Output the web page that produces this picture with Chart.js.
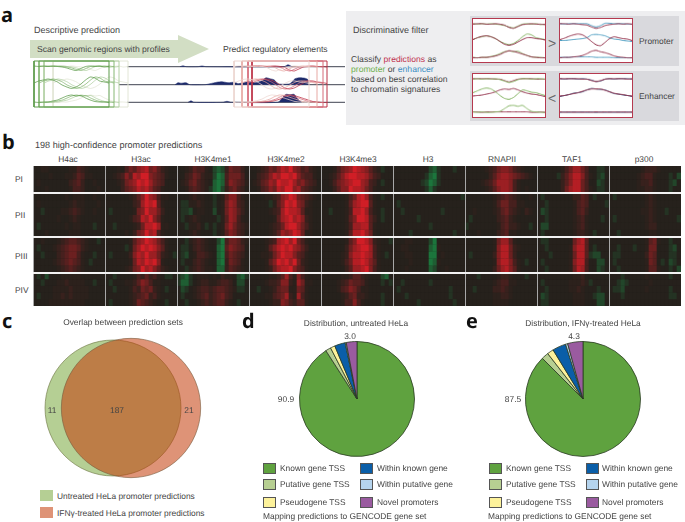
<!DOCTYPE html>
<html>
<head>
<meta charset="utf-8">
<title>Promoter predictions</title>
<script src="https://cdn.jsdelivr.net/npm/chart.js@4"></script>
<style>
  html, body { margin: 0; padding: 0; background: #fff; }
  #pagina { position: relative; width: 685px; height: 522px; overflow: hidden; font-family: "Liberation Sans", Arial, sans-serif; color: #444; text-rendering: geometricPrecision; }
  #pagina canvas, .caja, .txt, .muestra { position: absolute; }
  .txt { font-size: 8.4px; white-space: nowrap; transform: translateY(-50%); line-height: 1; }
  .cen { transform: translate(-50%, -50%); }
  .letra { font-family: "Open Sans", sans-serif; font-weight: 700; font-size: 20px; color: #111; }
  .muestra { border: 1px solid #555; box-sizing: border-box; }
  .caja { background: #eeeef0; }
  .oscuro { background: #d9d9dd; }
  .flecha { position: absolute; left: 30px; top: 35px; width: 179px; height: 28px; background: #d2dec4;
            clip-path: polygon(0 5px, 148px 5px, 148px 0, 100% 14px, 148px 100%, 148px 23px, 0 23px); }
  .marco { border: 1px solid #b5394f; box-sizing: content-box; }
</style>
</head>
<body>
<div id="pagina">
  <div class="flecha"></div>
  <div class="caja" style="left:346px;top:11px;width:339px;height:114px"></div>
  <div class="caja oscuro" style="left:470px;top:16px;width:209px;height:50px"></div>
  <div class="caja oscuro" style="left:470px;top:71px;width:209px;height:50px"></div>
  <canvas id="escaneo" width="315" height="54" style="left:30px;top:56px"></canvas>
  <canvas id="perfil1" class="marco" width="74" height="45" style="left:472px;top:18px;background:#fff"></canvas>
  <canvas id="perfil2" class="marco" width="74" height="45" style="left:559px;top:18px;background:#fff"></canvas>
  <canvas id="perfil3" class="marco" width="74" height="45" style="left:472px;top:73px;background:#fff"></canvas>
  <canvas id="perfil4" class="marco" width="74" height="45" style="left:559px;top:73px;background:#fff"></canvas>
  <canvas id="mapa" width="648" height="140" style="left:33px;top:166px;background:#24231e;filter:blur(0.5px)"></canvas>
  <canvas id="venn" width="185" height="156" style="left:30px;top:330px"></canvas>
  <canvas id="tartaD" width="130" height="130" style="left:292px;top:334px"></canvas>
  <canvas id="tartaE" width="130" height="130" style="left:518px;top:334px"></canvas>
</div>

<script>
/* Textos */
var pistas = ['H4ac', 'H3ac', 'H3K4me1', 'H3K4me2', 'H3K4me3', 'H3', 'RNAPII', 'TAF1', 'p300'];
var grupos = ['PI', 'PII', 'PIII', 'PIV'];
var categorias = ['Known gene TSS', 'Putative gene TSS', 'Pseudogene TSS', 'Within known gene', 'Within putative gene', 'Novel promoters'];
var coloresTarta = ['#5fa23f', '#b7cf92', '#fdf29b', '#0a5ea8', '#b5d4ee', '#9a5ba0'];

/* Valores de las tartas */
var sinTratar = [90.9, 1.5, 1.3, 3.0, 0.3, 3.0];
var conIFN = [87.5, 2.0, 1.8, 3.8, 0.6, 4.3];

/* Conjuntos del diagrama de Venn */
var soloSinTratar = 11;
var comunes = 187;
var soloIFN = 21;

/* Predicciones por grupo y tiras dibujadas en cada grupo */
var predPorGrupo = [38, 63, 50, 47];
var tirasPorGrupo = [4, 6, 5, 5];

/* Mapa de calor: 1-9 rojo, a-d verde, 0 fondo. Una cadena por tira, 18 columnas */
var H4ac = [
  '001100000113210000', '000010001124311000', '010000000234200100', '000100000133200010',
  '000000001011100100', '010000000121100010', '00a000011232100100', '000000100121000000', '0a0000001011000a00', '000100000111000000',
  '0010001234432100a0', '0a0001234554210000', '00a000234553100a00', '00000123454310a000', '000000123432100000',
  '0a0b00011111000000', '00a000112111100a00', '000001111211110000', '0a0001121211110000', '000011111111100000'];
var H3ac = [
  '000103546785642100', '001236487996543100', '000125679897543000', '000024568786431000',
  '000000124697631100', '000000023798941000', '0a0000015697752000', '000000134879641000', '00a000012588971100', '000001025697831000',
  '000000146798753100', '00000a157989864100', '0a000026879775210a', '000000158798961000', '000001256978642100',
  '00a000013242310aa0', '0a0001124653110000', '00a000132545210a00', '000000123452310000', '0a0000125432100a00'];
var H3K4me1 = [
  '001243310bcb254420', '002354211bdc355530', '012453210cdc365431', '00134321acdb245320',
  '000121100a01466310', '0aa112100a01576320', '0aab01100b01576420', '0a01210000a1476310', '00a1120a0a01575321', '000121000a01465320',
  '00a1232100bd355421', '0aa0232100cd465430', '0ab0133210cd354320', '0a00232100cd254310', '00a1232110cc243210',
  'abca01110102110bca', 'acca01221123320bb0', '0ba012332344321aa0', '0a0012342345320000', '00a001232344210a00'];
var H3K4me2 = [
  '001235468796534210', '002346879989643310', '012457698897564320', '001346587996743210',
  '000011236798543210', '00000a146989652100', '000001237988741100', '000000147897862100', '000001235899753100', '000001247679851100',
  '000012378979531000', '000014689897642000', '000112579886431000', '000014698979521000', '000012578896431000',
  '000001124731631000', '000012236621751100', '00a001245511541000', '000011345721731000', '000001226532441000'];
var H3K4me3 = [
  '000135679876421a00', '001246899887532000', '001356789976320a00', '000246698875310000',
  '000000135897310a00', '000000147899410000', '00a000138897310a00', '000000146998420a00', '000000137788410000', '000000148897510000',
  '00000014699862100a', '000000257899731000', '0000012688987310a0', '000001358898641000', '000000247789631000',
  '000001124421000bc0', '000012354431000a0a', '000013465311000000', '000001245221000a00', '000001336310000a00'];
var H3 = [
  '000000000bca000a00', '00000000acda000000', '0000000abdca000000', '00000000aca0000000',
  '00000000000000000a', '0a0000000000000000', '00a000000000a00000', '000000a00000000000', '000000000a00000000', '0000a0000000000a00',
  '000110000bd0000000', '001100000cd1000000', '000110000dd0100000', '000010000dc1000000', '000100000cb0010000',
  '000000000000000000', '00a000000a00000000', '0a000000000000a000', '000a0000000000a000', '000000a00000000a00'];
var RNAPII = [
  '000001235665321000', '000000246776543210', '000012357776310000', '000001246776310100',
  '000000012343210010', '000000013553311000', '001000012453210210', '0a0000002342100000', 'a000000013422100a0', '000100002341100000',
  '000000015774100000', '000000016885210000', '0a0000026885200000', '000000016886310a00', '000000025786410000',
  '000a00001221000a00', '000000012331100000', '00a000022321000000', '000000011221000000', '000000011110000000'];
var TAF1 = [
  '000000135775300aa0', '00000a246886310ab0', '000000246885300ba0', '000000257885310aa0',
  '0a000000022430a000', '00a00000013430000a', '0ba000000134200000', '00a0000001231000a0', '0bb000000123100000', '0a000000012210a000',
  '0aa000000578400000', '00a00000168840a000', '000a000015884abb00', '0a0000001688300bb0', '00a000001587300ba0',
  '000000000112000000', '0a00000011121a0000', '00a000001121000a00', '0ba00000011100abb0', '0aa000000111000bb0'];
var p300 = [
  '000000001222100000', '000000012331000a0b', '000000012231000ab0', '000000011221000a00',
  '0a0000000121000000', '000000000121000000', '00000000112100a000', '0a000000012100000a', '000000000122000000', '00a000000011000000',
  '000000000145100a00', '00a000a00155000ab0', '0aa000000254000aa0', '0a00000001540a0ba0', '00a000000144100a0b',
  '000a00000100000a00', '00aba0000010000000', '0aab00000100000a00', '000a00000000000aa0', '000000000000000000'];
var mapaPistas = [H4ac, H3ac, H3K4me1, H3K4me2, H3K4me3, H3, RNAPII, TAF1, p300];

/* Perfiles de cromatina, tres pistas en cada recuadro */
var rojo1a = [40.5, 41, 41, 40.5, 40.5, 41, 40.5, 39.5, 37, 36, 38, 40, 40.5, 41, 40.5, 40.5, 40];
var rojo1b = [24, 26, 27.5, 28, 27, 25, 22, 19, 18, 19, 21.5, 24, 26, 26, 25, 24.5, 23.5];
var rojo1c = [4.5, 4.5, 5, 5, 5.5, 6.5, 8, 10.5, 12, 11.5, 10, 8.5, 7, 5.5, 5, 4.5, 4.5];
var verde1a = [41, 40.5, 41, 40.5, 41, 40.5, 40, 39, 37.5, 36.5, 38.5, 40.5, 41, 40.5, 41, 40, 40.5];
var verde1b = [24, 26, 27, 28, 27, 25, 22, 20, 18.5, 20, 23, 27, 30, 29, 26, 25, 24];
var verde1c = [5, 4.5, 5, 5, 6, 7, 9, 11, 12, 11, 11.5, 9, 7, 5.5, 5, 5, 4.5];

var rojo2a = [41, 41, 40.5, 41, 40.5, 40, 39.5, 37.5, 36, 37, 39, 40, 40.5, 41, 40.5, 41, 40.5];
var rojo2b = [24, 25.5, 27.5, 29, 30, 29, 26, 22, 18.5, 17.5, 21, 25, 27, 26, 25, 24.5, 23];
var rojo2c = [4.5, 5, 5, 5.5, 6, 7, 9, 11.5, 12.5, 11, 10, 8.5, 6.5, 5.5, 5, 4.5, 4.5];
var azul2a = [41, 40.5, 41, 41, 41, 41, 41, 39, 37.5, 39, 41.5, 41.5, 41, 41, 41, 40.5, 40.5];
var azul2b = [23, 23, 23.5, 24, 24.5, 25, 26, 29, 29.5, 29, 28, 26, 24.5, 24, 23, 22.5, 22];
var azul2c = [5, 5, 5, 5.5, 5.5, 5.5, 5.5, 5.5, 5, 5, 5, 5, 4.5, 4.5, 4.5, 4.5, 4.5];

var rojo3a = [41, 41, 41, 41, 41, 40.5, 40.5, 39, 37.5, 39, 40.5, 41, 41, 41, 40.5, 40.5, 40.5];
var rojo3b = [22.5, 23, 23.5, 24.5, 25.5, 27, 29, 30, 29.5, 30.5, 29, 27, 25.5, 24.5, 24, 23, 22];
var rojo3c = [5.5, 5.5, 5, 5.5, 5.5, 5.5, 5.5, 5.5, 5.5, 5.5, 5.5, 5.5, 5.5, 5, 5, 5.5, 5];
var verde3a = [40.5, 41, 40.5, 41, 40.5, 41, 40, 38.5, 37, 38, 40, 41, 41, 40.5, 41, 41, 40.5];
var verde3b = [26, 28, 30, 31, 30, 27, 23, 20, 19, 21, 25, 29, 28, 26.5, 26, 24.5, 23];
var verde3c = [5.5, 5, 5.5, 5, 5, 5.5, 6, 9, 12, 12.5, 11.5, 12.5, 9, 6, 5.5, 5, 5];

var rojo4a = [41, 41, 41, 41, 41, 40.5, 40.5, 39, 38, 39, 40.5, 41, 41, 41, 41, 40.5, 41];
var rojo4b = [22.5, 23, 24, 25, 26, 27.5, 29, 30, 30, 30, 28.5, 27, 25.5, 24.5, 24, 23, 22.5];
var rojo4c = [5.5, 5, 5.5, 5, 5.5, 5, 5.5, 5, 5.5, 5, 5.5, 5, 5.5, 5, 5.5, 5, 5.5];
var azul4a = [41, 40.5, 41, 41, 40.5, 41, 40.5, 39.5, 38, 38.5, 40.5, 41, 40.5, 41, 41, 41, 40.5];
var azul4b = [22, 23, 24, 25.5, 26, 27, 29, 30.5, 30, 29.5, 29, 27, 25, 24.5, 23.5, 23, 22];
var azul4c = [5, 5.5, 5, 5.5, 5, 5.5, 5, 5.5, 5, 5.5, 5, 5.5, 5, 5.5, 5, 5.5, 5];

/* Ventanas de escaneo y señal de las pistas del panel a */
var ventanasVerdes = [34, 39, 44, 53];
var ventanasRojas = [234, 242, 248, 252];
var senal1x = [180, 183, 186, 198, 202, 206, 284, 288, 292];
var senal1y = [0, 1, 0, 0, 0.8, 0, 0, 2, 0];
var senal2x = [175, 178, 181, 186, 190, 205, 210, 217, 222, 228, 235, 238, 243, 248, 252, 255, 262, 266, 270, 274, 278, 282, 290, 295, 300, 305, 308, 309];
var senal2y = [0, 2, 1.5, 2, 0, 0, 1, 2.5, 3, 2, 2.5, 1, 2, 3, 2.5, 2, 4, 7, 6, 5, 1, 0.5, 1, 6, 7, 6.5, 5, 0];
var senal3x = [188, 191, 194, 223, 227, 231, 278, 282, 286, 290, 294, 298, 302];
var senal3y = [0, 1.5, 0, 0, 1, 0, 0, 4, 8, 7.5, 8, 3, 0];

Chart.defaults.animation = false;
Chart.defaults.responsive = false;
Chart.defaults.events = [];
Chart.defaults.layout.autoPadding = false;
Chart.defaults.plugins.legend.display = false;
Chart.defaults.plugins.tooltip.enabled = false;

var pagina = document.getElementById('pagina');

function texto(cadena, x, y, clase, estilo) {
    var t = document.createElement('div');
    t.className = 'txt ' + (clase || '');
    t.style.left = x + 'px';
    t.style.top = y + 'px';
    if (estilo) t.style.cssText += estilo;
    t.innerHTML = cadena;
    pagina.appendChild(t);
}

/* ---------- Panel a ---------- */
function linea(datos, color, grosor) {
    return {
        data: datos,
        borderColor: color,
        borderWidth: grosor || 1,
        pointRadius: 0,
        tension: 0.2,
        fill: false
    };
}

function perfil(id, conjuntos) {
    var etiquetas = conjuntos[0].data.map(function (v, i) { return i; });
    return new Chart(document.getElementById(id), {
        type: 'line',
        data: { labels: etiquetas, datasets: conjuntos },
        options: {
            layout: { padding: 0 },
            scales: {
                x: { display: false, type: 'linear', min: 0, max: 16 },
                y: { display: false, min: 0, max: 46 }
            }
        }
    });
}

var cRojo = '#8f2a45', cVerde = '#7fb05c', cAzul = '#4a9cc0';
perfil('perfil1', [linea(rojo1a, cRojo), linea(rojo1b, cRojo), linea(rojo1c, cRojo), linea(verde1a, cVerde), linea(verde1b, cVerde), linea(verde1c, cVerde)]);
perfil('perfil2', [linea(rojo2a, cRojo), linea(rojo2b, cRojo), linea(rojo2c, cRojo), linea(azul2a, cAzul), linea(azul2b, cAzul), linea(azul2c, cAzul)]);
perfil('perfil3', [linea(verde3a, cVerde), linea(verde3b, cVerde), linea(verde3c, cVerde), linea(rojo3a, cRojo), linea(rojo3b, cRojo), linea(rojo3c, cRojo)]);
perfil('perfil4', [linea(rojo4a, cRojo), linea(rojo4b, cRojo), linea(rojo4c, cRojo), linea(azul4a, '#2f4a7a'), linea(azul4b, '#2f4a7a'), linea(azul4c, '#2f4a7a')]);

/* Ventanas deslizantes: cada una repite el perfil desde su inicio */
var anchoVentana = 75, suelo = 3, techo = 49;
var basePistas = [43.3, 25.3, 7.7];

function copiaPerfil(perfilY, inicio, color, grosor) {
    var puntos = perfilY.map(function (v, i) {
        return { x: inicio + i * anchoVentana / 16, y: v + suelo };
    });
    return linea(puntos, color, grosor);
}

function ventana(inicio, color) {
    var f = inicio + anchoVentana;
    var c = linea([{ x: inicio, y: suelo }, { x: f, y: suelo }, { x: f, y: techo }, { x: inicio, y: techo }, { x: inicio, y: suelo }], color, 1);
    c.tension = 0;
    return c;
}

function senal(xs, ys, base) {
    var puntos = xs.map(function (x, i) { return { x: x, y: base + ys[i] }; });
    return { data: puntos, borderColor: '#1d2a6b', borderWidth: 0.5, backgroundColor: '#1d2a6b', pointRadius: 0, tension: 0.2, fill: { value: base } };
}

function baseLinea(desde, base) {
    var c = linea([{ x: desde, y: base }, { x: 345, y: base }], '#3f4350', 1);
    c.tension = 0;
    return c;
}

var verdes = ['#5c9b4a', '#86b874', '#b2d0a4', '#e2e6d6'];
var rojos = ['#ecd6d0', '#e7a9a4', '#d56a78', '#bc3246'];
var conjuntosEscaneo = [];

ventanasVerdes.forEach(function (inicio, i) {
    conjuntosEscaneo.push(ventana(inicio, verdes[i]));
    [verde1a, verde1b, verde1c].forEach(function (p) { conjuntosEscaneo.push(copiaPerfil(p, inicio, verdes[i], 0.8)); });
});
ventanasRojas.forEach(function (inicio, i) {
    conjuntosEscaneo.push(ventana(inicio, rojos[i]));
    [rojo1a, rojo1b, rojo1c].forEach(function (p) { conjuntosEscaneo.push(copiaPerfil(p, inicio, rojos[i], 0.8)); });
});
conjuntosEscaneo.push(senal(senal1x, senal1y, basePistas[0]));
conjuntosEscaneo.push(senal(senal2x, senal2y, basePistas[1]));
conjuntosEscaneo.push(senal(senal3x, senal3y, basePistas[2]));
conjuntosEscaneo.push(baseLinea(127, basePistas[0]));
conjuntosEscaneo.push(baseLinea(119, basePistas[1]));
conjuntosEscaneo.push(baseLinea(127, basePistas[2]));

new Chart(document.getElementById('escaneo'), {
    type: 'line',
    data: { datasets: conjuntosEscaneo },
    options: {
        layout: { padding: 0 },
        scales: {
            x: { display: false, type: 'linear', min: 30, max: 345 },
            y: { display: false, min: 0, max: 54 }
        }
    }
});

/* ---------- Panel b: mapa de calor con barras flotantes ---------- */
function mezcla(a, b, t) {
    return 'rgb(' + a.map(function (v, i) { return Math.round(v + (b[i] - v) * t); }).join(',') + ')';
}

function colorCelda(c) {
    var fondo = [38, 33, 28];
    if (c >= '1' && c <= '9') return mezcla(fondo, [208, 30, 38], Math.pow(Number(c) / 9, 1.5));
    if (c >= 'a' && c <= 'd') return mezcla(fondo, [24, 150, 72], [0.15, 0.32, 0.52, 0.72]['abcd'.indexOf(c)]);
    return mezcla(fondo, fondo, 0);
}

var columnas = 18;
var hueco = 0.7;   // separacion oscura entre tiras, en predicciones
var etiquetasMapa = [];
for (var e = 0; e < pistas.length * columnas; e++) etiquetasMapa.push(e);

var conjuntosMapa = [];
var tira = 0, acumulado = 0, cortes = [];
predPorGrupo.forEach(function (n, g) {
    for (var k = 0; k < tirasPorGrupo[g]; k++) {
        var lo = acumulado + n * k / tirasPorGrupo[g];
        var hi = acumulado + n * (k + 1) / tirasPorGrupo[g] - hueco;
        var colores = [], rangos = [];
        mapaPistas.forEach(function (pista) {
            pista[tira].split('').forEach(function (c) {
                colores.push(colorCelda(c));
                rangos.push([lo, hi]);
            });
        });
        conjuntosMapa.push({ data: rangos, backgroundColor: colores, barPercentage: 1, categoryPercentage: 1, grouped: false });
        tira++;
    }
    acumulado += n;
    cortes.push(acumulado);
});

new Chart(document.getElementById('mapa'), {
    type: 'bar',
    data: { labels: etiquetasMapa, datasets: conjuntosMapa },
    options: {
        layout: { padding: 0 },
        scales: {
            x: {
                ticks: { display: false, autoSkip: false },
                border: { display: false },
                grid: {
                    z: 1,
                    drawTicks: false,
                    color: function (ctx) { return ctx.index % columnas === 0 ? '#a8a8a8' : 'rgba(0,0,0,0)'; }
                }
            },
            y: {
                reverse: true,
                min: 0,
                max: 198,
                ticks: { display: false },
                border: { display: false },
                afterBuildTicks: function (eje) {
                    eje.ticks = cortes.slice(0, 3).map(function (v) { return { value: v }; });
                },
                grid: { z: 2, drawTicks: false, color: '#f2f2f2', lineWidth: 2 }
            }
        }
    }
});

/* ---------- Panel c: Venn con burbujas, radio segun el tamano del conjunto ---------- */
var escalaRadio = 4.83;
function radio(total) { return escalaRadio * Math.sqrt(total); }

new Chart(document.getElementById('venn'), {
    type: 'bubble',
    data: {
        datasets: [
            {
                label: 'IFN',
                data: [{ x: 131, y: 408, r: radio(comunes + soloIFN) }],
                backgroundColor: 'rgba(195,58,8,0.55)',
                borderColor: 'rgba(120,90,60,0.6)',
                borderWidth: 1
            },
            {
                label: 'Untreated',
                data: [{ x: 113, y: 408, r: radio(comunes + soloSinTratar) }],
                backgroundColor: '#b5cf94',
                borderColor: 'rgba(120,130,80,0.7)',
                borderWidth: 1
            }
        ]
    },
    options: {
        layout: { padding: 0 },
        scales: {
            x: { display: false, min: 30, max: 215 },
            y: { display: false, min: 330, max: 486, reverse: true }
        }
    }
});

/* ---------- Paneles d y e ---------- */
function tarta(id, valores) {
    return new Chart(document.getElementById(id), {
        type: 'pie',
        data: {
            labels: categorias,
            datasets: [{ data: valores, backgroundColor: coloresTarta, borderColor: '#2a3a22', borderWidth: 0.8 }]
        },
        options: { radius: 57.5, layout: { padding: 0 } }
    });
}
tarta('tartaD', sinTratar);
tarta('tartaE', conIFN);

function leyenda(xMuestra1, xTexto1, xMuestra2, xTexto2, xPie) {
    var filas = [468, 484, 502];
    categorias.forEach(function (c, i) {
        var col2 = i >= 3;
        var y = filas[i % 3];
        var m = document.createElement('div');
        m.className = 'muestra';
        m.style.cssText = 'left:' + (col2 ? xMuestra2 : xMuestra1) + 'px;top:' + (y - 5) + 'px;width:13px;height:11px;background:' + coloresTarta[i];
        pagina.appendChild(m);
        texto(c, col2 ? xTexto2 : xTexto1, y);
    });
    texto('Mapping predictions to GENCODE gene set', xPie, 516);
}
leyenda(263, 280, 360, 377, 263);
leyenda(489, 506, 586, 602, 488);

/* ---------- Textos ---------- */
texto('a', 1, 15, 'letra');
texto('b', 2, 142, 'letra');
texto('c', 2, 321, 'letra');
texto('d', 242, 321, 'letra');
texto('e', 466, 321, 'letra');

var t9 = 'font-size:9px';
var t86 = 'font-size:8.6px';
texto('Descriptive prediction', 34, 30, '', t9);
texto('Scan genomic regions with profiles', 37, 49, '', t86);
texto('Predict regulatory elements', 223, 49, '', t86);
texto('Discriminative filter', 353, 30, '', t9);
texto('Classify <span style="color:#c0304f">predictions</span> as', 351, 59, '', t86);
texto('<span style="color:#6fae4e">promoter</span> or <span style="color:#3b8fc4">enhancer</span>', 351, 69, '', t86);
texto('based on best correlation', 351, 79, '', t86);
texto('to chromatin signatures', 351, 89, '', t86);
texto('Promoter', 639, 41);
texto('Enhancer', 639, 96);
texto('&gt;', 552, 43, 'cen', 'font-size:14px;color:#666');
texto('&lt;', 552, 98, 'cen', 'font-size:14px;color:#666');

texto('198 high-confidence promoter predictions', 35, 146, '', 'font-size:9.1px');
var centrosPistas = [68, 141, 213, 286, 358, 428, 502, 572, 644];
pistas.forEach(function (p, i) { texto(p, centrosPistas[i], 159, 'cen'); });
var alturasGrupos = [179, 215, 256, 290];
grupos.forEach(function (g, i) { texto(g, 15, alturasGrupos[i]); });

texto('Overlap between prediction sets', 123, 322, 'cen');
texto(String(soloSinTratar), 52, 410, 'cen');
texto(String(comunes), 117, 410, 'cen');
texto(String(soloIFN), 189, 410, 'cen');

var mc1 = document.createElement('div');
mc1.className = 'muestra';
mc1.style.cssText = 'left:40px;top:490px;width:13px;height:11px;border-color:#b5cf94;background:#b5cf94';
pagina.appendChild(mc1);
var mc2 = document.createElement('div');
mc2.className = 'muestra';
mc2.style.cssText = 'left:40px;top:507px;width:13px;height:11px;border-color:#de9377;background:#de9377';
pagina.appendChild(mc2);
texto('Untreated HeLa promoter predictions', 57, 496);
texto('IFN\u03b3-treated HeLa promoter predictions', 57, 513);

texto('Distribution, untreated HeLa', 356, 323, 'cen');
texto(sinTratar[5].toFixed(1), 350, 336, 'cen');
texto(sinTratar[0].toFixed(1), 286, 399, 'cen');
texto('Distribution, IFN\u03b3-treated HeLa', 583, 323, 'cen');
texto(conIFN[5].toFixed(1), 574, 336, 'cen');
texto(conIFN[0].toFixed(1), 513, 399, 'cen');
</script>
</body>
</html>
